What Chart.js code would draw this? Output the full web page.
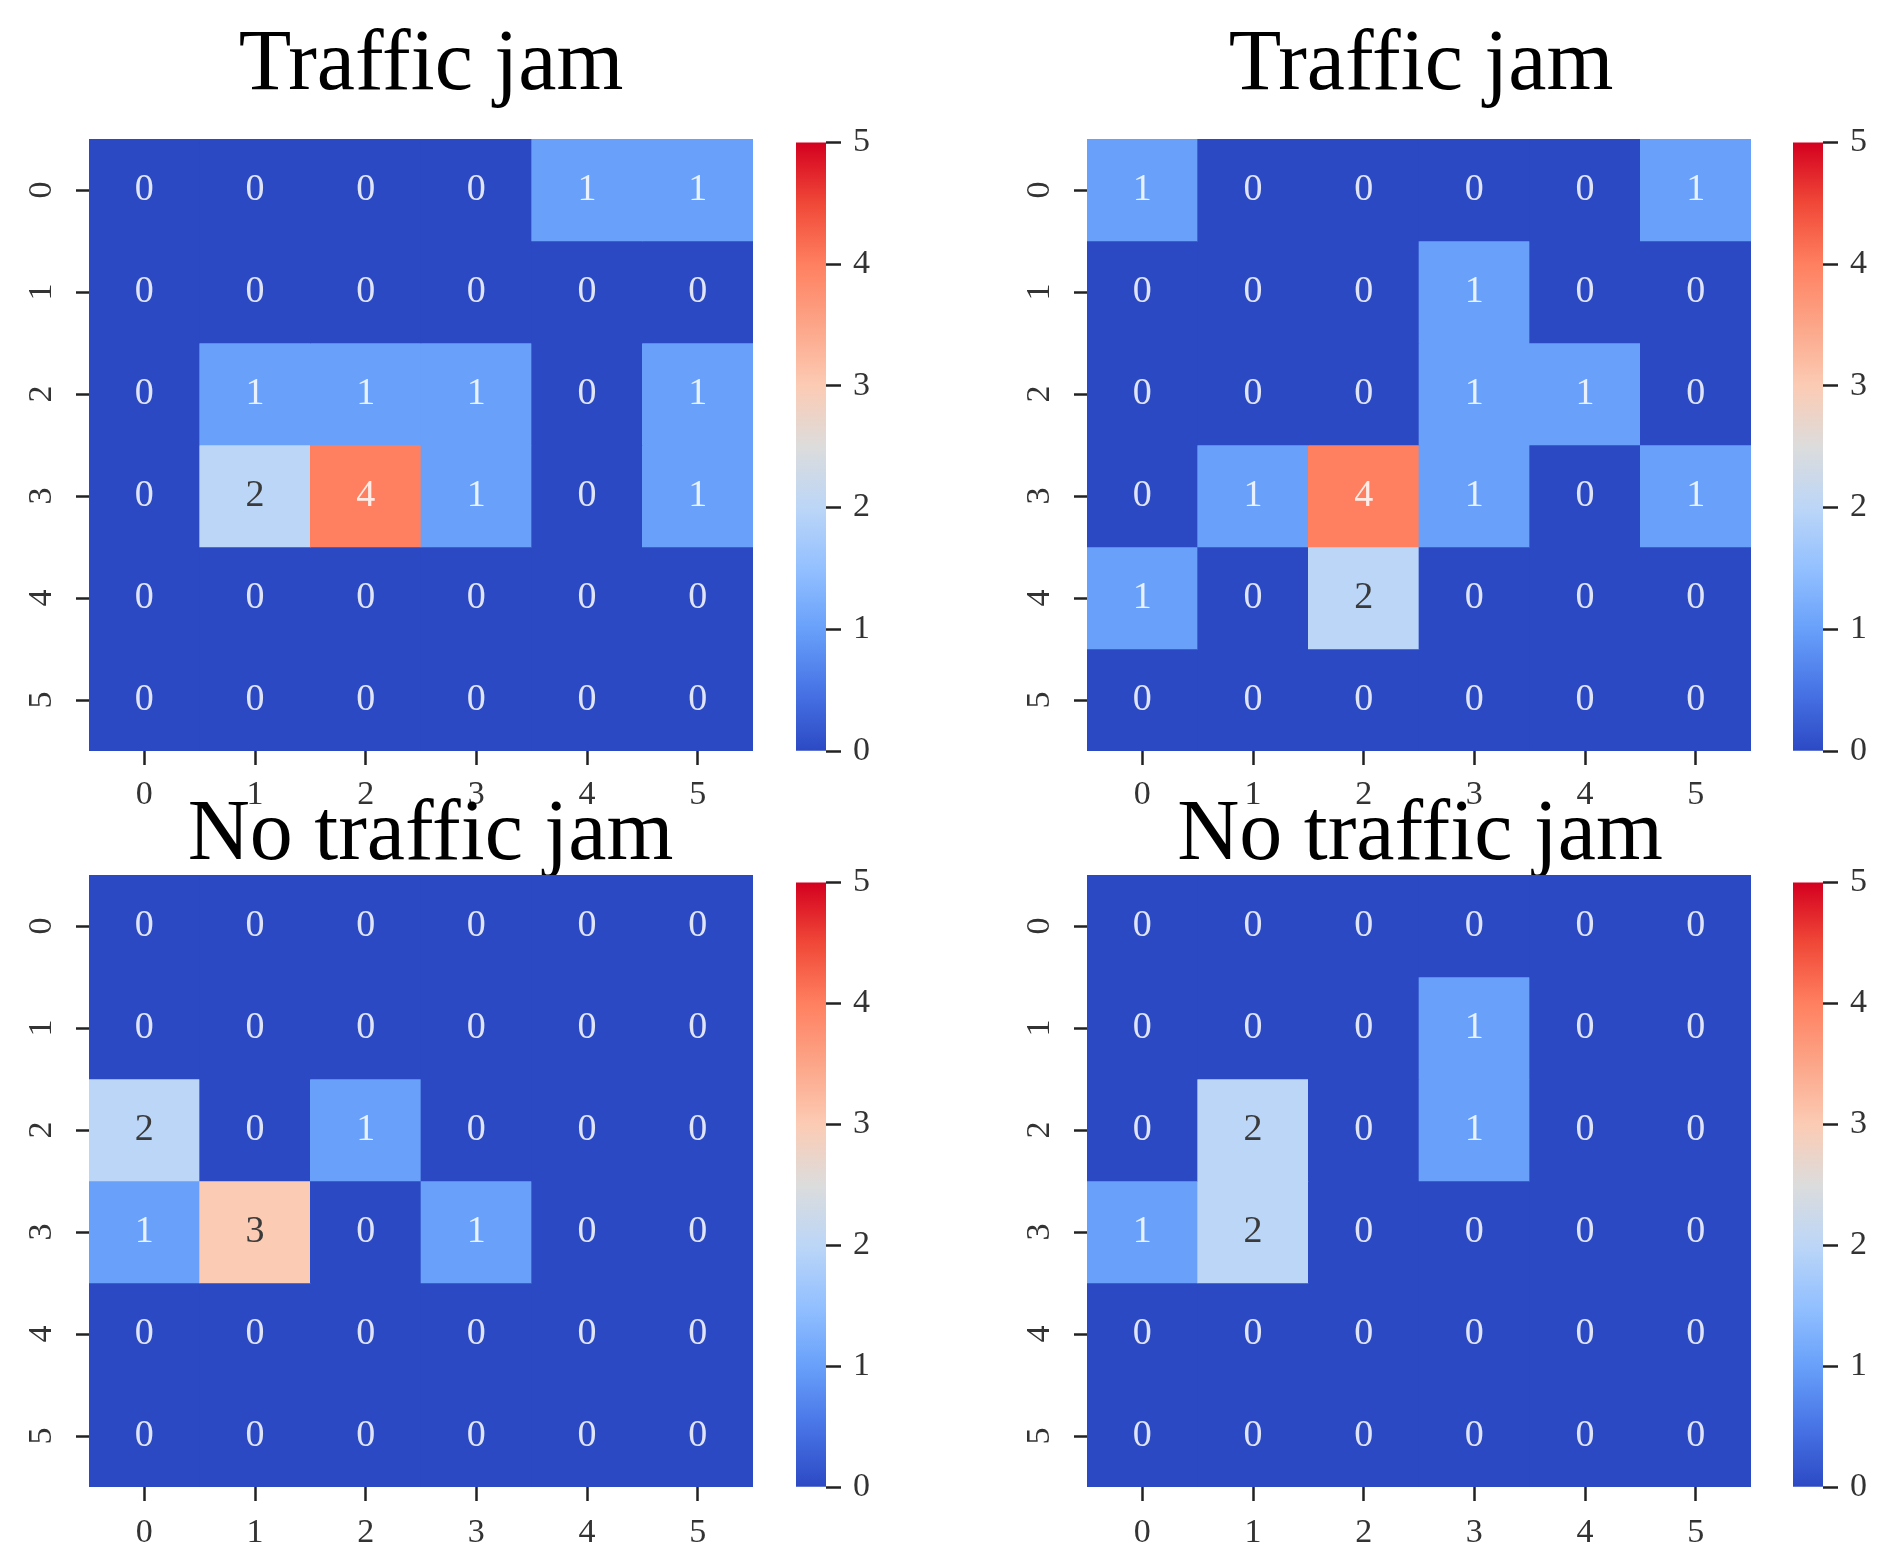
<!DOCTYPE html>
<html>
<head>
<meta charset="utf-8">
<script src="https://cdn.jsdelivr.net/npm/chart.js@4.4.1/dist/chart.umd.min.js"></script>
<style>
html,body{margin:0;padding:0;background:#ffffff;width:1895px;height:1565px;overflow:hidden;}
canvas{position:absolute;}
</style>
</head>
<body>
<canvas id="h1"></canvas><canvas id="c1"></canvas>
<canvas id="h2"></canvas><canvas id="c2"></canvas>
<canvas id="h3"></canvas><canvas id="c3"></canvas>
<canvas id="h4"></canvas><canvas id="c4"></canvas>
<script>
// ---------------- data ----------------
const rowLabels = ['0', '1', '2', '3', '4', '5'];
const colLabels = ['0', '1', '2', '3', '4', '5'];
const colorbarTicks = [0, 1, 2, 3, 4, 5];
const titleJam = 'Traffic jam';
const titleNoJam = 'No traffic jam';
const vMin = 0;
const vMax = 5;

const jamLeft = [
  [0, 0, 0, 0, 1, 1],
  [0, 0, 0, 0, 0, 0],
  [0, 1, 1, 1, 0, 1],
  [0, 2, 4, 1, 0, 1],
  [0, 0, 0, 0, 0, 0],
  [0, 0, 0, 0, 0, 0]
];
const jamRight = [
  [1, 0, 0, 0, 0, 1],
  [0, 0, 0, 1, 0, 0],
  [0, 0, 0, 1, 1, 0],
  [0, 1, 4, 1, 0, 1],
  [1, 0, 2, 0, 0, 0],
  [0, 0, 0, 0, 0, 0]
];
const noJamLeft = [
  [0, 0, 0, 0, 0, 0],
  [0, 0, 0, 0, 0, 0],
  [2, 0, 1, 0, 0, 0],
  [1, 3, 0, 1, 0, 0],
  [0, 0, 0, 0, 0, 0],
  [0, 0, 0, 0, 0, 0]
];
const noJamRight = [
  [0, 0, 0, 0, 0, 0],
  [0, 0, 0, 1, 0, 0],
  [0, 2, 0, 1, 0, 0],
  [1, 2, 0, 0, 0, 0],
  [0, 0, 0, 0, 0, 0],
  [0, 0, 0, 0, 0, 0]
];

// ---------------- style ----------------
const SERIF = '"Liberation Serif", "Times New Roman", serif';
const tickFont = {family: SERIF, size: 34, weight: 'normal'};
const tickColor = '#333333';
const tickMarkColor = '#222222';
const cmapStops = [
  [0.0, '#2c49c4'], [0.5, '#4874e6'], [1.0, '#68a0fa'], [1.5, '#93c0ff'],
  [2.0, '#bcd6f7'], [2.5, '#dcdcdc'], [3.0, '#fccbb4'], [3.5, '#fca588'],
  [4.0, '#ff8060'], [4.5, '#f04838'], [5.0, '#d4001f']
];
function hexRgb(h) { return [parseInt(h.slice(1,3),16), parseInt(h.slice(3,5),16), parseInt(h.slice(5,7),16)]; }
function cmapRgb(v) {
  const t = Math.max(vMin, Math.min(vMax, v));
  for (let k = 0; k < cmapStops.length - 1; k++) {
    const [a, ca] = cmapStops[k], [b, cb] = cmapStops[k + 1];
    if (t >= a && t <= b) {
      const f = (t - a) / (b - a), A = hexRgb(ca), B = hexRgb(cb);
      return A.map((x, i) => Math.round(x + (B[i] - x) * f));
    }
  }
  return hexRgb(cmapStops[cmapStops.length - 1][1]);
}
function cmap(v) { const c = cmapRgb(v); return `rgb(${c[0]},${c[1]},${c[2]})`; }
function textColor(v) {
  const lin = cmapRgb(v).map(x => { x /= 255; return x <= 0.03928 ? x / 12.92 : Math.pow((x + 0.055) / 1.055, 2.4); });
  const L = 0.2126 * lin[0] + 0.7152 * lin[1] + 0.0722 * lin[2];
  return L > 0.408 ? '#3a3a3a' : 'rgba(255,255,255,0.85)';
}

const annotPlugin = {
  id: 'annot',
  afterDatasetsDraw(chart) {
    const ctx = chart.ctx;
    ctx.save();
    ctx.font = `38px ${SERIF}`;
    ctx.textAlign = 'center';
    ctx.textBaseline = 'middle';
    chart.data.datasets.forEach((ds, i) => {
      const meta = chart.getDatasetMeta(i);
      meta.data.forEach((bar, j) => {
        const v = ds.cellValues[j];
        ctx.fillStyle = textColor(v);
        ctx.fillText(String(v), bar.x, (bar.y + bar.base) / 2);
      });
    });
    ctx.restore();
  }
};

function place(canvas, g) {
  canvas.width = g.w; canvas.height = g.h;
  canvas.style.left = g.left + 'px'; canvas.style.top = g.top + 'px';
  canvas.style.width = g.w + 'px'; canvas.style.height = g.h + 'px';
}

function heatmap(id, mat, title, g) {
  const canvas = document.getElementById(id);
  place(canvas, g);
  const titleSize = 86, titleLH = 0.8;
  const half = titleSize * titleLH / 2;
  const mid = g.titleBaseline - 0.3375 * titleSize;
  const padTop = mid - half - g.top;
  const padBottom = g.areaTop - g.top - padTop - 2 * half;
  const datasets = rowLabels.map((r, i) => ({
    label: 'row ' + r,
    data: colLabels.map(() => [i, i + 1]),
    cellValues: mat[i],
    backgroundColor: mat[i].map(v => cmap(v)),
    borderWidth: 0,
    barPercentage: 1,
    categoryPercentage: 1,
    grouped: false,
    yAxisID: 'y'
  }));
  new Chart(canvas, {
    type: 'bar',
    data: {labels: colLabels, datasets},
    options: {
      responsive: false, animation: false, events: [], devicePixelRatio: 1,
      layout: {padding: 0},
      plugins: {
        legend: {display: false}, tooltip: {enabled: false},
        title: {display: true, text: title, color: '#000000',
          font: {family: SERIF, size: titleSize, weight: 'normal', lineHeight: titleLH},
          padding: {top: padTop, bottom: padBottom}}
      },
      scales: {
        x: {
          type: 'category', offset: true,
          grid: {display: true, drawOnChartArea: false, offset: false, tickLength: 14, tickWidth: 2.5, tickColor: tickMarkColor},
          border: {display: false},
          ticks: {color: tickColor, font: tickFont, padding: g.xPad, maxRotation: 0, minRotation: 0},
          afterFit: s => { s.height = g.top + g.h - g.areaBottom; }
        },
        y: {
          type: 'linear', position: 'left', min: 0, max: rowLabels.length, reverse: true,
          afterBuildTicks: s => { s.ticks = rowLabels.map((l, i) => ({value: i + 0.5})); },
          ticks: {callback: v => rowLabels[Math.floor(v)], minRotation: 90, maxRotation: 90, crossAlign: 'center',
            padding: 25, color: tickColor, font: tickFont},
          grid: {display: true, drawOnChartArea: false, tickLength: 13, tickWidth: 2.5, tickColor: tickMarkColor},
          border: {display: false},
          afterFit: s => { s.width = g.areaLeft - g.left; }
        },
        pad: {
          type: 'linear', position: 'right', display: true,
          grid: {display: false}, border: {display: false}, ticks: {display: false},
          afterFit: s => { s.width = g.left + g.w - g.areaRight; }
        }
      }
    },
    plugins: [annotPlugin]
  });
}

function colorbar(id, g) {
  const canvas = document.getElementById(id);
  place(canvas, g);
  new Chart(canvas, {
    type: 'bar',
    data: {labels: ['scale'], datasets: [{
      data: [[vMin, vMax]],
      backgroundColor: ctx => {
        const chart = ctx.chart;
        if (!chart.chartArea || !chart.scales.y) return cmap(vMin);
        const y0 = chart.scales.y.getPixelForValue(vMin), y1 = chart.scales.y.getPixelForValue(vMax);
        const grad = chart.ctx.createLinearGradient(0, y0, 0, y1);
        cmapStops.forEach(([v, c]) => grad.addColorStop((v - vMin) / (vMax - vMin), c));
        return grad;
      },
      borderWidth: 0, barPercentage: 1, categoryPercentage: 1
    }]},
    options: {
      responsive: false, animation: false, events: [], devicePixelRatio: 1,
      layout: {padding: {left: g.barLeft - g.left, top: g.areaTop - g.top, bottom: g.top + g.h - g.areaBottom, right: 0}},
      plugins: {legend: {display: false}, tooltip: {enabled: false}, title: {display: false}},
      scales: {
        x: {display: false, offset: true},
        y: {
          position: 'right', min: vMin, max: vMax,
          afterBuildTicks: s => { s.ticks = colorbarTicks.map(v => ({value: v})); },
          ticks: {color: tickColor, font: tickFont, padding: 12},
          grid: {display: true, drawOnChartArea: false, tickLength: 15, tickWidth: 2.5, tickColor: tickMarkColor},
          border: {display: false},
          afterFit: s => { s.width = g.left + g.w - g.barRight; }
        }
      }
    }
  });
}

// ---------------- layout ----------------
heatmap('h1', jamLeft, titleJam, {left: 0, top: 0, w: 862, h: 831, areaLeft: 89, areaRight: 753, areaTop: 139, areaBottom: 751, titleBaseline: 95, xPad: 10});
heatmap('h2', jamRight, titleJam, {left: 1000, top: 0, w: 842, h: 831, areaLeft: 1087, areaRight: 1751, areaTop: 139, areaBottom: 751, titleBaseline: 95, xPad: 10});
heatmap('h3', noJamLeft, titleNoJam, {left: 0, top: 780, w: 861, h: 777, areaLeft: 89, areaRight: 753, areaTop: 875, areaBottom: 1487, titleBaseline: 865, xPad: 12});
heatmap('h4', noJamRight, titleNoJam, {left: 1000, top: 780, w: 840, h: 777, areaLeft: 1087, areaRight: 1751, areaTop: 875, areaBottom: 1487, titleBaseline: 865, xPad: 12});

colorbar('c1', {left: 786, top: 110, w: 110, h: 680, barLeft: 796, barRight: 826, areaTop: 139, areaBottom: 751});
colorbar('c2', {left: 1783, top: 110, w: 110, h: 680, barLeft: 1793, barRight: 1823, areaTop: 139, areaBottom: 751});
colorbar('c3', {left: 786, top: 850, w: 110, h: 680, barLeft: 796, barRight: 826, areaTop: 875, areaBottom: 1487});
colorbar('c4', {left: 1783, top: 850, w: 110, h: 680, barLeft: 1793, barRight: 1823, areaTop: 875, areaBottom: 1487});
</script>
</body>
</html>
